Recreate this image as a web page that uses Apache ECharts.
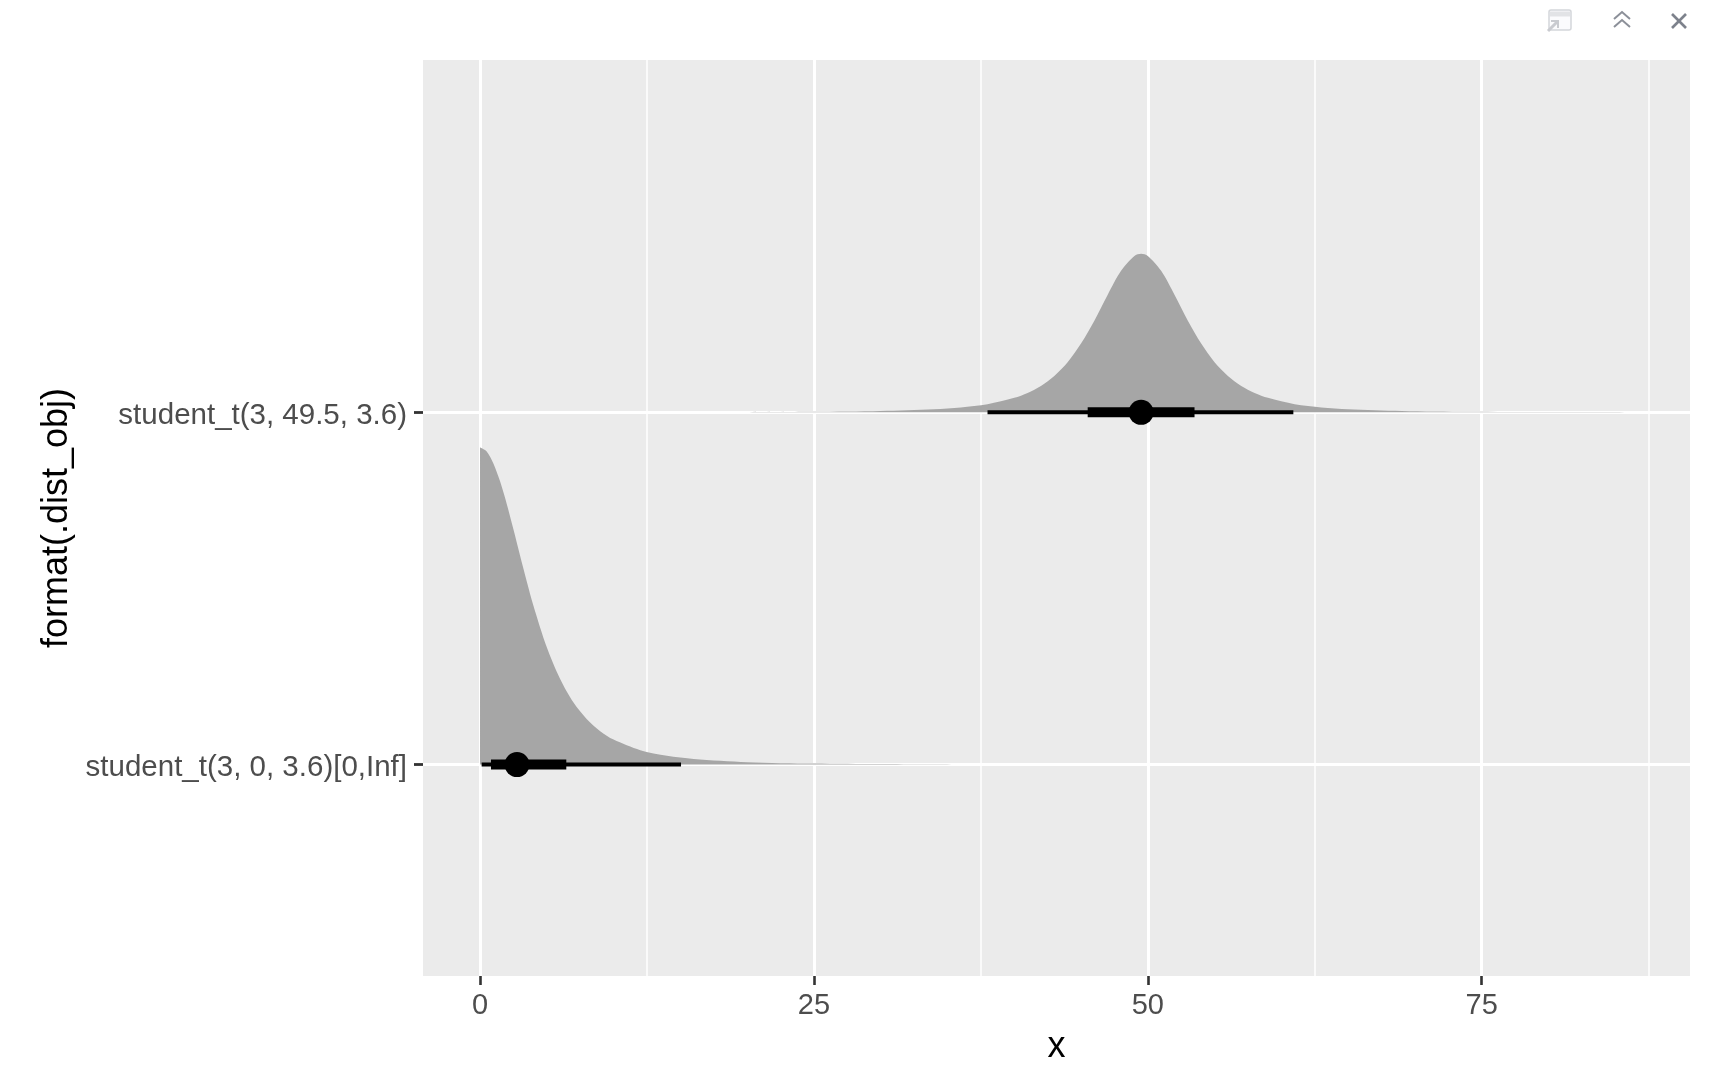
<!DOCTYPE html>
<html>
<head>
<meta charset="utf-8">
<style>html,body{margin:0;padding:0;background:#fff}#c{width:1726px;height:1084px}</style>
<script src="https://cdn.jsdelivr.net/npm/echarts@6/dist/echarts.min.js"></script>
</head>
<body>
<div id="c"></div>
<script>
const rowLabels = ['student_t(3, 0, 3.6)[0,Inf]', 'student_t(3, 49.5, 3.6)'];
const rowPositions = [0, 1];
const xTicks = [0, 25, 50, 75];
const xMinorGrid = [12.5, 37.5, 62.5, 87.5];

const upperX = [18, 25, 30, 34, 36, 38, 40, 41, 42, 43, 44, 45, 46, 47, 48, 49, 49.5, 50, 51, 52, 53, 54, 55, 56, 57, 58, 59, 61, 63, 65, 69, 74, 80, 90];
const upperH = [0.0002, 0.0017, 0.0039, 0.0087, 0.014, 0.023, 0.041, 0.055, 0.075, 0.103, 0.142, 0.195, 0.26, 0.334, 0.402, 0.444, 0.45, 0.444, 0.402, 0.334, 0.26, 0.195, 0.142, 0.103, 0.075, 0.055, 0.041, 0.023, 0.014, 0.0087, 0.0039, 0.0017, 0.001, 0.0004];

const lowerX = [0, 0.5, 1, 1.5, 2, 2.5, 3, 3.5, 4, 5, 6, 7, 8, 9, 10, 12, 14, 16, 20, 25, 30, 36];
const lowerH = [0.90, 0.889, 0.855, 0.804, 0.74, 0.668, 0.593, 0.52, 0.451, 0.333, 0.243, 0.176, 0.129, 0.095, 0.071, 0.041, 0.025, 0.016, 0.007, 0.003, 0.0015, 0.0003];

const upperThin = [38.0, 60.9];
const upperThick = [45.5, 53.5];
const upperPoint = 49.5;
const lowerThin = [0.12, 15.05];
const lowerThick = [0.82, 6.46];
const lowerPoint = 2.77;

const FONT = '"Liberation Sans", Arial, sans-serif';
const zip = (xs, ys) => xs.map((x, i) => [x, ys[i]]);

function density(xs, hs, row) {
  return {
    type: 'line', xAxisIndex: 0, data: zip(xs, hs.map(h => row + h)),
    smooth: 0.3, symbol: 'none', silent: true, z: 3,
    lineStyle: { width: 0, color: '#A6A6A6' },
    areaStyle: { color: '#A6A6A6', opacity: 1, origin: row }
  };
}
function interval(r, row, width) {
  return {
    type: 'line', xAxisIndex: 0, data: r.map(x => [x, row]), symbol: 'none', silent: true, z: 4,
    lineStyle: { width: width, color: '#000', cap: 'butt' }
  };
}
function dot(x, row) {
  return {
    type: 'scatter', xAxisIndex: 0, data: [[x, row]], symbol: 'circle', symbolSize: 25, silent: true, z: 5,
    itemStyle: { color: '#000', opacity: 1 }
  };
}

const chart = echarts.init(document.getElementById('c'), null, { renderer: 'canvas' });
chart.setOption({
  animation: false,
  backgroundColor: '#fff',
  textStyle: { fontFamily: FONT },
  grid: { left: 423, right: 36, top: 60, bottom: 108, show: true, backgroundColor: '#EBEBEB', borderWidth: 0 },
  xAxis: [{
    type: 'value', min: -4.27, max: 90.6, position: 'bottom',
    name: 'x', nameLocation: 'middle', nameGap: 53,
    nameTextStyle: { fontSize: 36, color: '#000', fontFamily: FONT },
    axisLine: { show: false, onZero: false },
    axisTick: { show: true, customValues: xTicks, length: 9, lineStyle: { color: '#333', width: 2.6 } },
    axisLabel: { show: true, customValues: xTicks, fontSize: 29, color: '#4D4D4D', margin: 15, fontFamily: FONT, formatter: v => String(v) },
    splitLine: { show: true, lineStyle: { color: '#fff', width: 3 } }
  }, {
    type: 'value', min: -4.27, max: 90.6, position: 'bottom',
    axisLine: { show: false, onZero: false },
    axisTick: { show: false, customValues: xMinorGrid },
    axisLabel: { show: false, customValues: xMinorGrid },
    splitLine: { show: true, lineStyle: { color: '#fff', width: 1.5 } }
  }],
  yAxis: {
    type: 'value', min: -0.6, max: 2,
    name: 'format(.dist_obj)', nameLocation: 'middle', nameGap: 345, nameRotate: 90,
    nameTextStyle: { fontSize: 36, color: '#000', fontFamily: FONT },
    axisLine: { show: false, onZero: false },
    axisTick: { show: true, customValues: rowPositions, length: 9, lineStyle: { color: '#333', width: 2.8 } },
    axisLabel: { show: true, customValues: rowPositions, fontSize: 29.5, color: '#4D4D4D', margin: 16, fontFamily: FONT, verticalAlign: 'top', lineHeight: 7, formatter: v => rowLabels[rowPositions.indexOf(v)] },
    splitLine: { show: true, lineStyle: { color: '#fff', width: 3 } }
  },
  graphic: [
    { type: 'rect', shape: { x: 1549, y: 10, width: 22, height: 20, r: 2 }, style: { fill: '#fbfbfd', stroke: '#d4d6da', lineWidth: 1.5 } },
    { type: 'polyline', shape: { points: [[1550, 14], [1570, 14]] }, style: { stroke: '#e2e3e6', lineWidth: 5, fill: 'none' } },
    { type: 'polyline', shape: { points: [[1548, 31], [1557, 22]] }, style: { stroke: '#c9cbd0', lineWidth: 3, fill: 'none' } },
    { type: 'polyline', shape: { points: [[1551, 21], [1558, 21], [1558, 28]] }, style: { stroke: '#c9cbd0', lineWidth: 2, fill: 'none' } },
    { type: 'polyline', shape: { points: [[1614, 19], [1622, 12], [1630, 19]] }, style: { stroke: '#8c9099', lineWidth: 2, fill: 'none' } },
    { type: 'polyline', shape: { points: [[1614, 27], [1622, 20], [1630, 27]] }, style: { stroke: '#8c9099', lineWidth: 2, fill: 'none' } },
    { type: 'polyline', shape: { points: [[1672, 14], [1686, 28]] }, style: { stroke: '#7d828c', lineWidth: 2.6, fill: 'none' } },
    { type: 'polyline', shape: { points: [[1686, 14], [1672, 28]] }, style: { stroke: '#7d828c', lineWidth: 2.6, fill: 'none' } }
  ],
  series: [
    density(upperX, upperH, 1),
    density(lowerX, lowerH, 0),
    interval(upperThin, 1, 4),
    interval(upperThick, 1, 10),
    dot(upperPoint, 1),
    interval(lowerThin, 0, 4),
    interval(lowerThick, 0, 10),
    dot(lowerPoint, 0)
  ]
});
</script>
</body>
</html>
